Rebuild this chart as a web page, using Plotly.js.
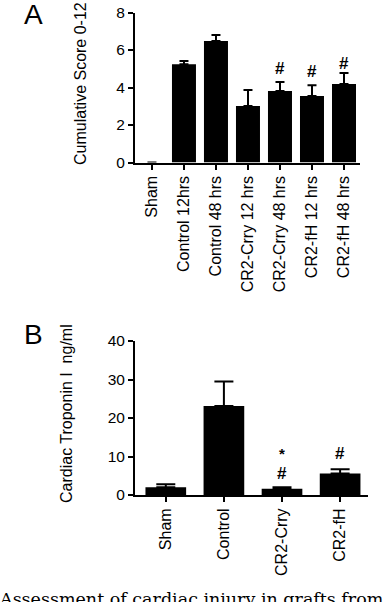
<!DOCTYPE html>
<html>
<head>
<meta charset="utf-8">
<script src="https://cdn.plot.ly/plotly-3.0.1.min.js"></script>
<style>html,body{margin:0;padding:0;background:#fff;}#chart{width:390px;height:602px;}</style>
</head>
<body>
<div id="chart"></div>
<script>
// Panel A data
const catsA = ["Sham", "Control 12hrs", "Control 48 hrs", "CR2-Crry 12 hrs", "CR2-Crry 48 hrs", "CR2-fH 12 hrs", "CR2-fH 48 hrs"];
const scoreA = [0, 5.24, 6.48, 3.01, 3.81, 3.55, 4.19];
const errA = [null, 0.17, 0.32, 0.86, 0.48, 0.57, 0.58];
const hashCatsA = ["CR2-Crry 48 hrs", "CR2-fH 12 hrs", "CR2-fH 48 hrs"];
const hashYA = [5.0, 4.85, 5.3];
const ticksA = [0, 2, 4, 6, 8];

// Panel B data
const catsB = ["Sham", "Control", "CR2-Crry", "CR2-fH"];
const tropB = [2.0, 23.1, 1.6, 5.6];
const errB = [0.8, 6.4, 0.4, 1.1];
const ticksB = [0, 10, 20, 30, 40];

const W = 390, H = 602;
const px = v => v / W;
const py = v => 1 - v / H;

const font = "Liberation Sans, Arial, Helvetica, sans-serif";

const traces = [
  {
    type: "bar", x: catsA, y: scoreA, xaxis: "x", yaxis: "y",
    marker: {color: "#000", line: {width: 0}}, width: 0.75,
    error_y: {type: "data", symmetric: false, array: errA, arrayminus: catsA.map(() => 0),
              color: "#000", thickness: 2, width: 4.5},
    hoverinfo: "none"
  },
  {
    type: "bar", x: catsB, y: tropB, xaxis: "x2", yaxis: "y2",
    marker: {color: "#000", line: {width: 0}}, width: 0.7,
    error_y: {type: "data", symmetric: false, array: errB, arrayminus: catsB.map(() => 0),
              color: "#000", thickness: 2, width: 9.5},
    hoverinfo: "none"
  }
];

const axCommon = {
  showline: true, linecolor: "#000", linewidth: 2, mirror: false,
  ticks: "outside", ticklen: 5, tickwidth: 2, tickcolor: "#000",
  showgrid: false, zeroline: false, fixedrange: true,
  tickfont: {family: font, size: 15.5, color: "#000"}
};

const annotations = [
  {text: "A", x: px(33), y: py(15), xref: "paper", yref: "paper", showarrow: false,
   font: {family: font, size: 28, color: "#000"}, xanchor: "center", yanchor: "middle"},
  {text: "B", x: px(33), y: py(334), xref: "paper", yref: "paper", showarrow: false,
   font: {family: font, size: 28, color: "#000"}, xanchor: "center", yanchor: "middle"},
  {text: "Cumulative Score 0-12", x: px(80), y: py(84), xref: "paper", yref: "paper", showarrow: false,
   textangle: -90, font: {family: font, size: 16, color: "#000"}, xanchor: "center", yanchor: "middle"},
  {text: "Cardiac Troponin I  ng/ml", x: px(66), y: py(414), xref: "paper", yref: "paper", showarrow: false,
   textangle: -90, font: {family: font, size: 16, color: "#000"}, xanchor: "center", yanchor: "middle"},
  {text: "Assessment of cardiac injury in grafts from", x: px(-3), y: py(587), xref: "paper", yref: "paper",
   showarrow: false, xanchor: "left", yanchor: "top",
   font: {family: "DejaVu Serif, serif", size: 17.5, color: "#000"}}
];
hashCatsA.forEach((c, i) => annotations.push({
  text: "<b>#</b>", x: c, y: hashYA[i], xref: "x", yref: "y", showarrow: false,
  font: {family: font, size: 17, color: "#000"}, xanchor: "center", yanchor: "middle"
}));
annotations.push({text: "<b>*</b>", x: "CR2-Crry", y: 10.9, xref: "x2", yref: "y2", showarrow: false,
  font: {family: font, size: 15, color: "#000"}, xanchor: "center", yanchor: "middle"});
annotations.push({text: "<b>#</b>", x: "CR2-Crry", y: 5.6, xref: "x2", yref: "y2", showarrow: false,
  font: {family: font, size: 17, color: "#000"}, xanchor: "center", yanchor: "middle"});
annotations.push({text: "<b>#</b>", x: "CR2-fH", y: 10.9, xref: "x2", yref: "y2", showarrow: false,
  font: {family: font, size: 17, color: "#000"}, xanchor: "center", yanchor: "middle"});

const layout = {
  width: W, height: H, margin: {l: 0, r: 0, t: 0, b: 0},
  paper_bgcolor: "#fff", plot_bgcolor: "#fff", showlegend: false,
  xaxis: Object.assign({}, axCommon, {domain: [px(135), px(360)], anchor: "y",
    type: "category", range: [-0.53, 6.5], tickangle: -90,
    tickfont: {family: font, size: 16, color: "#000"}}),
  yaxis: Object.assign({}, axCommon, {domain: [py(162.5), py(12.5)], anchor: "x",
    range: [0, 8], tickvals: ticksA, ticktext: ticksA.map(String)}),
  xaxis2: Object.assign({}, axCommon, {domain: [px(135), px(368)], anchor: "y2",
    type: "category", range: [-0.53, 3.48], tickangle: -90,
    tickfont: {family: font, size: 16, color: "#000"}}),
  yaxis2: Object.assign({}, axCommon, {domain: [py(495), py(341)], anchor: "x2",
    range: [0, 40], tickvals: ticksB, ticktext: ticksB.map(String)}),
  annotations: annotations
};

Plotly.newPlot("chart", traces, layout, {staticPlot: true, displayModeBar: false});
</script>
</body>
</html>
